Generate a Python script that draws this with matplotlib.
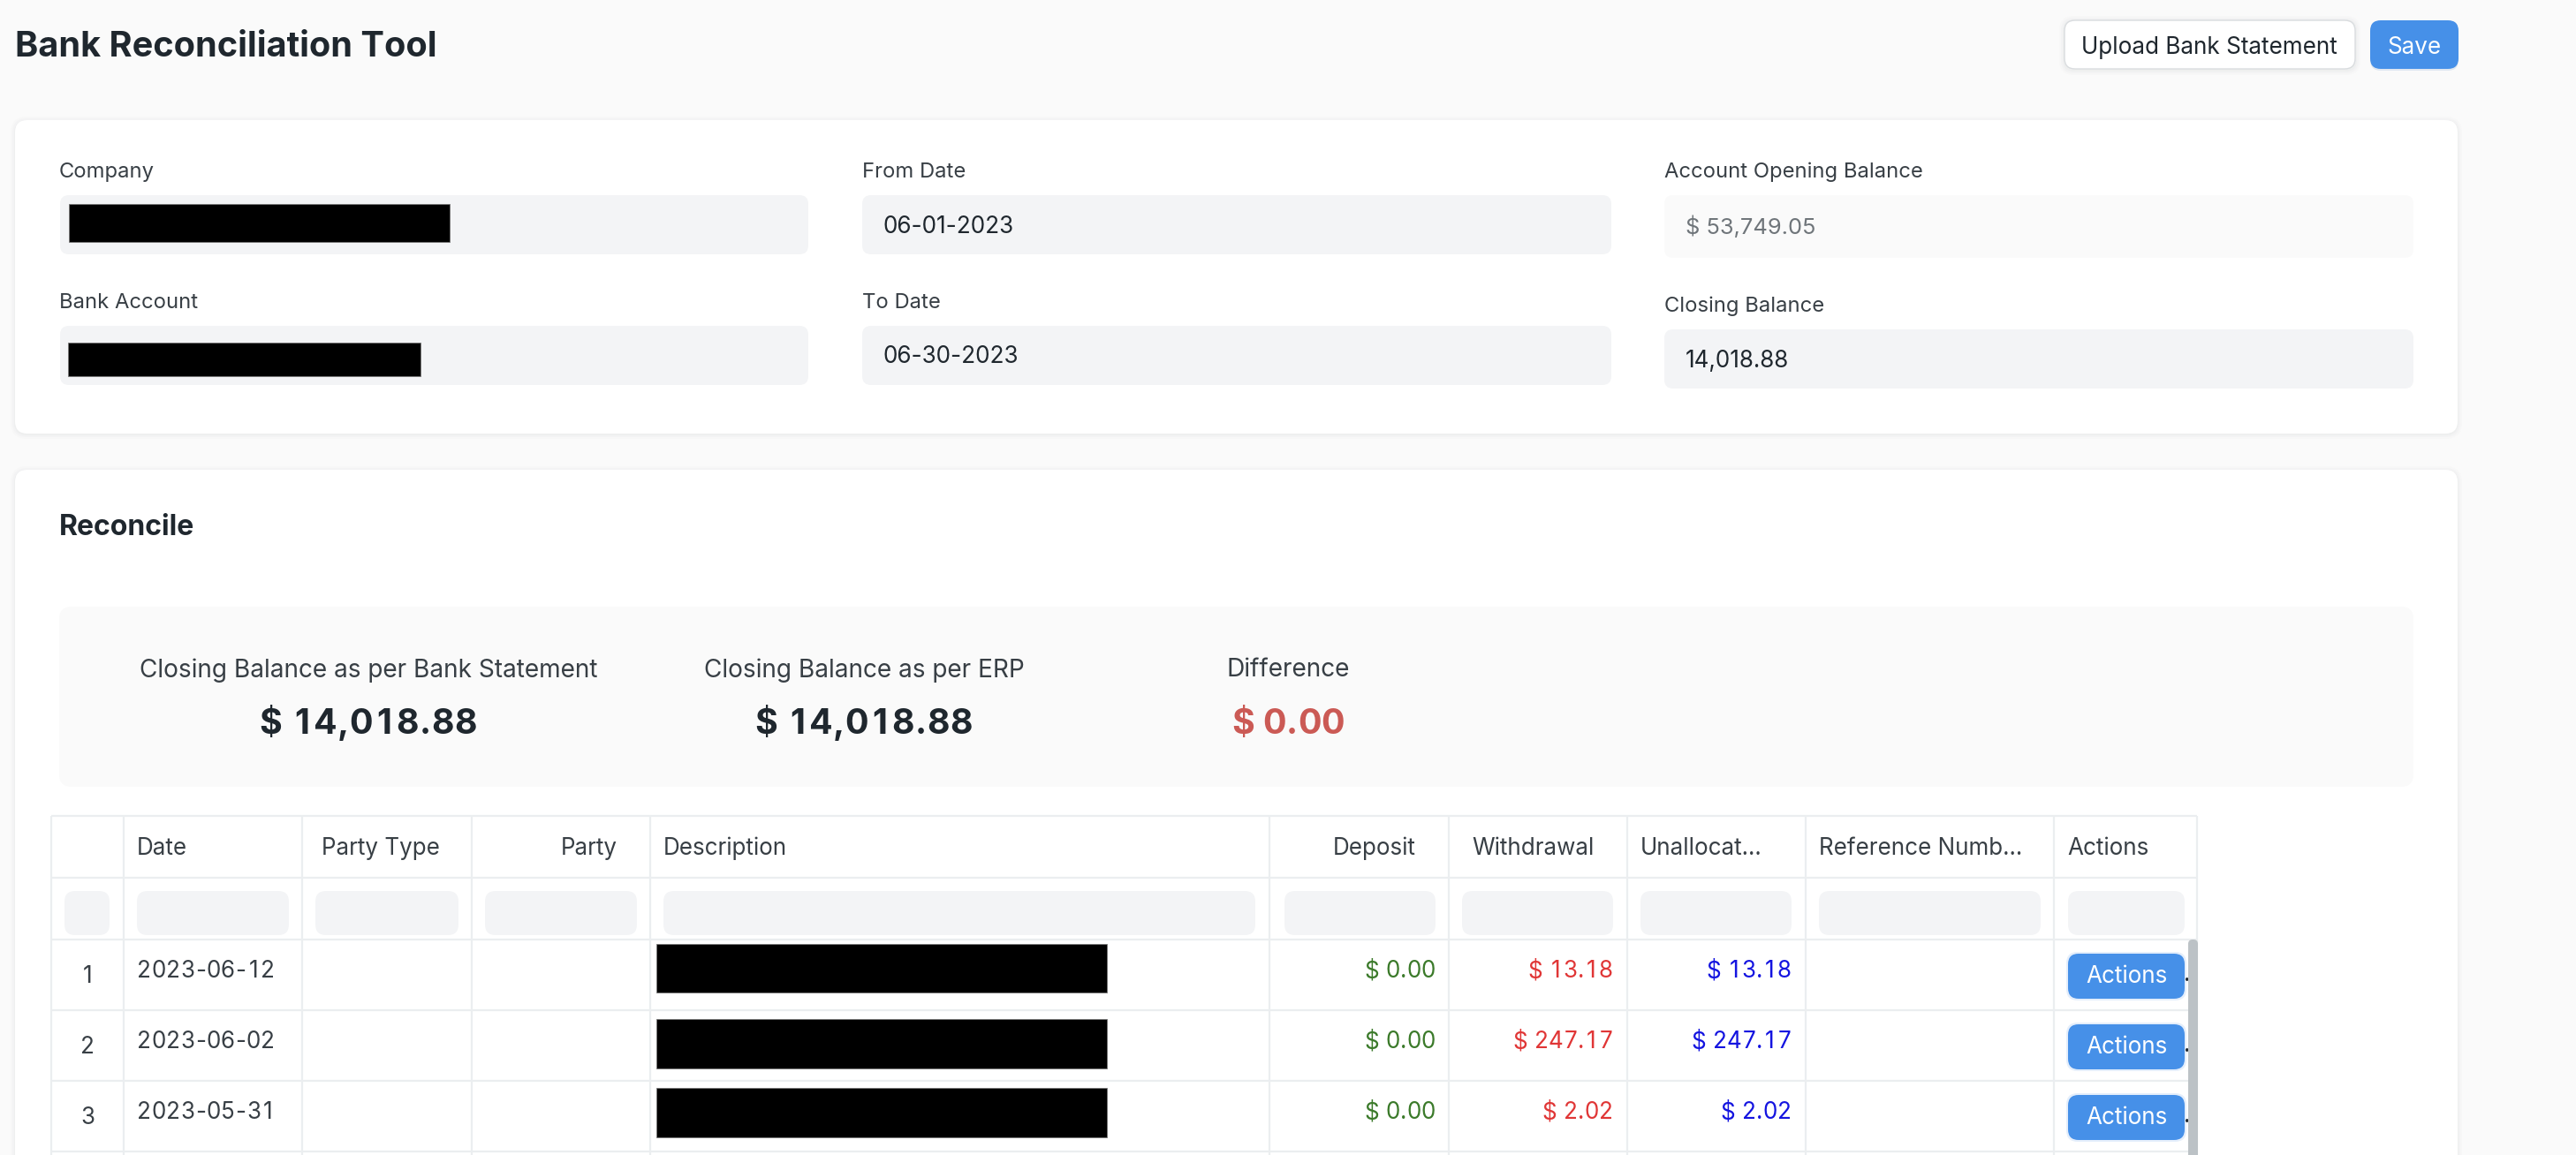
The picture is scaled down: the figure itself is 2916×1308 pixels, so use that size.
import matplotlib
matplotlib.use("Agg")
import matplotlib.pyplot as plt
from matplotlib.patches import FancyBboxPatch, Rectangle
from matplotlib.text import Text

plt.rcParams["font.family"] = ["Inter", "DejaVu Sans"]

headers = ["Date", "Party Type", "Party", "Description", "Deposit", "Withdrawal",
           "Unallocat...", "Reference Numb...", "Actions"]
row_ids = ["1", "2", "3"]
dates = ["2023-06-12", "2023-06-02", "2023-05-31"]
deposits = ["$ 0.00", "$ 0.00", "$ 0.00"]
withdrawals = ["$ 13.18", "$ 247.17", "$ 2.02"]
unallocated = ["$ 13.18", "$ 247.17", "$ 2.02"]

BG = "#fafafa"
FIELD = "#f3f4f6"
INK = "#1f272e"
LABEL = "#383f45"
BLUE = "#4690e8"
LINE = "#ebeef0"

fig = plt.figure(figsize=(29.16, 13.08), dpi=100, facecolor=BG)
ax = fig.add_axes([0, 0, 1, 1])
ax.set_xlim(0, 2916)
ax.set_ylim(1308, 0)
ax.axis("off")


class TabularText(Text):
    # matplotlib has no tnum switch, the table cells need equal width digits
    def draw(self, renderer):
        s = self.get_text()
        fp = self.get_fontproperties()

        def w(t):
            return renderer.get_text_width_height_descent(t, fp, False)[0]

        digit = w("000") - w("00")
        advs = []
        for c in s:
            if c in "0123456789":
                advs.append(digit)
            elif c == "-":
                advs.append(digit * 0.78)
            else:
                advs.append(w("0" + c + "0") - w("00"))
        x, y = self.get_transform().transform(self.get_position())
        size = fp.get_size_in_points() / 0.72
        y = renderer.height - y + 0.27 * size
        if self.get_ha() == "right":
            x -= sum(advs)
        elif self.get_ha() == "center":
            x -= sum(advs) / 2
        gc = renderer.new_gc()
        gc.set_foreground(self.get_color())
        gc.set_antialiased(True)
        for c, adv in zip(s, advs):
            if c != " ":
                off = (adv - (w("0" + c + "0") - w("00"))) / 2
                renderer.draw_text(gc, x + off, y, c, fp, 0, False)
            x += adv
        gc.restore()


def px(size):
    return size * 0.72


def box(x0, y0, x1, y1, color, r=10, z=1, edge="none", lw=0):
    p = FancyBboxPatch((x0 + r, y0 + r), x1 - x0 - 2 * r, y1 - y0 - 2 * r,
                       boxstyle="round,pad=%d,rounding_size=%d" % (r, r),
                       fc=color, ec=edge, lw=lw, zorder=z)
    ax.add_patch(p)


def shadow(x0, y0, x1, y1, r=14, z=1):
    for grow, col in [(5, "#f7f7f7"), (3, "#f3f3f4"), (1, "#eeefef")]:
        box(x0 - grow, y0 - grow + 1, x1 + grow, y1 + grow + 1, col, r + grow, z)


def label(x, y, s, size=23.8, color=LABEL, ha="left", weight="normal", z=5, tabular=False):
    if tabular:
        t = TabularText(x, y + 2, s, fontsize=px(size), color=color, ha=ha, va="center",
                        fontweight=weight, zorder=z)
        ax.add_artist(t)
    else:
        ax.text(x, y + 2, s, fontsize=px(size), color=color, ha=ha, va="center",
                fontweight=weight, zorder=z)


def black(x0, y0, x1, y1):
    ax.add_patch(Rectangle((x0, y0), x1 - x0, y1 - y0, fc="black", ec="#777777", lw=0.6, zorder=4))


# header
label(17, 51, "Bank Reconciliation Tool", 39.7, INK, weight="bold")
shadow(2336, 22, 2667, 79, 12)
box(2337, 23, 2666, 78, "white", 12, 2, "#d9dcdf", 1)
label(2501, 52, "Upload Bank Statement", 26.1, INK, "center")
box(2683, 24, 2783, 80, "#dfe7f1", 12, 1)
box(2683, 23, 2783, 78, BLUE, 12, 2)
label(2733, 52, "Save", 26, "white", "center")

# first card
shadow(17, 136, 2782, 491)
box(17, 136, 2782, 491, "white", 14, 2)
label(67, 193, "Company")
box(68, 221, 915, 288, FIELD, 10, 3)
black(78, 231, 509, 274)
label(67, 341, "Bank Account")
box(68, 369, 915, 436, FIELD, 10, 3)
black(77, 388, 476, 426)
label(976, 193, "From Date")
box(976, 221, 1824, 288, FIELD, 10, 3)
label(1000, 255, "06-01-2023", 26.2, INK)
label(976, 341, "To Date")
box(976, 369, 1824, 436, FIELD, 10, 3)
label(1000, 402, "06-30-2023", 26.2, INK)
label(1884, 193, "Account Opening Balance")
box(1884, 221, 2732, 292, BG, 10, 3)
label(1908, 255, "$ 53,749.05", 25.5, "#6f757a")
label(1884, 345, "Closing Balance")
box(1884, 373, 2732, 440, FIELD, 10, 3)
label(1908, 407, "14,018.88", 26, INK)

# second card
shadow(17, 532, 2782, 1340)
box(17, 532, 2782, 1340, "white", 14, 2)
label(67, 596, "Reconcile", 32, INK, weight="bold")
box(67, 687, 2732, 891, BG, 14, 3)
label(417, 757, "Closing Balance as per Bank Statement", 28, LABEL, "center")
label(417, 818, "$ 14,018.88", 39.4, INK, "center", "bold", tabular=True)
label(978, 757, "Closing Balance as per ERP", 28, LABEL, "center")
label(978, 818, "$ 14,018.88", 39.4, INK, "center", "bold", tabular=True)
label(1458, 757, "Difference", 28, LABEL, "center")
label(1458, 818, "$ 0.00", 39.4, "#cb5a55", "center", "bold", tabular=True)

# table grid
col_edges = [58, 140, 342, 534, 736, 1437, 1640, 1842, 2044, 2325, 2487]
row_edges = [924, 994, 1064, 1144, 1224, 1304]
for x in col_edges:
    ax.plot([x, x], [924, 1308], color=LINE, lw=1.6, zorder=3, solid_capstyle="butt")
for y in row_edges:
    ax.plot([58, 2487], [y, y], color=LINE, lw=1.6, zorder=3, solid_capstyle="butt")

# table header
head_x = [155, 364, 699, 751, 1603, 1805, 1857, 2059, 2340]
head_ha = ["left", "left", "right", "left", "right", "right", "left", "left", "left"]
for s, x, ha in zip(headers, head_x, head_ha):
    label(x, 959, s, 26, LABEL, ha)

# filter row
filter_spans = [(73, 124), (155, 327), (357, 519), (549, 721), (751, 1421),
                (1454, 1625), (1655, 1826), (1857, 2028), (2059, 2310), (2341, 2473)]
for x0, x1 in filter_spans:
    box(x0, 1009, x1, 1059, FIELD, 12, 4)

# table rows
row_y = [1098, 1178, 1258]
black_y = [(1069, 1124), (1154, 1210), (1232, 1288)]
for i in range(len(dates)):
    y = row_y[i]
    label(99, y + 6, row_ids[i], 26, LABEL, "center")
    label(155, y, dates[i], 26, LABEL, tabular=True)
    black(743, black_y[i][0], 1253, black_y[i][1])
    label(1625, y, deposits[i], 26, "#3b7a2a", "right", tabular=True)
    label(1826, y, withdrawals[i], 26, "#e03636", "right", tabular=True)
    label(2028, y, unallocated[i], 26, "#1414e0", "right", tabular=True)
    box(2339, y - 20, 2475, y + 35, "#e4eefb", 13, 4)
    box(2341, y - 18, 2473, y + 33, BLUE, 12, 5)
    label(2407, y + 6, "Actions", 26, "white", "center", z=6)
    label(2472, y + 4, ".", 26, INK, "left", z=4)

# scrollbar
box(2477, 1064, 2488, 1340, "#bcc2c6", 5, 7)

fig.savefig("out.png", dpi=100, facecolor=BG)
